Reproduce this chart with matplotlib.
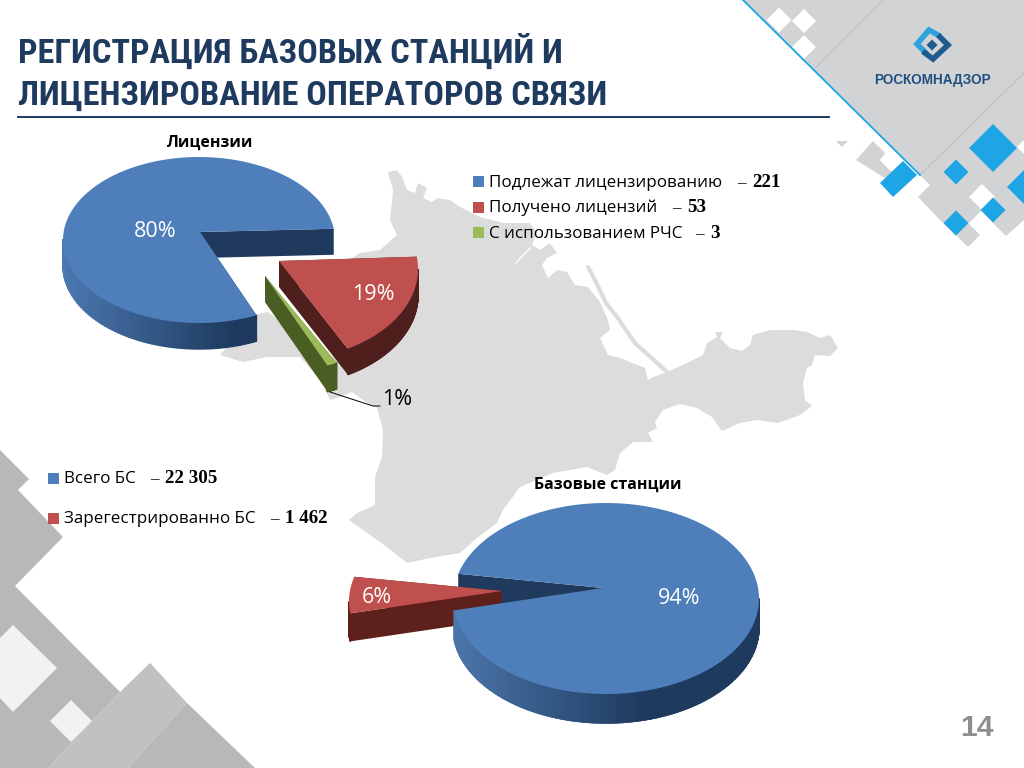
#!/usr/bin/env python3
import numpy as np
import matplotlib
matplotlib.use('Agg')
import matplotlib.pyplot as plt
from matplotlib.patches import Polygon

# Data
title_lines = ['РЕГИСТРАЦИЯ БАЗОВЫХ СТАНЦИЙ И', 'ЛИЦЕНЗИРОВАНИЕ ОПЕРАТОРОВ СВЯЗИ']
page_number = '14'
logo_text = 'РОСКОМНАДЗОР'

lic_title = 'Лицензии'
lic_names = ['Подлежат лицензированию', 'Получено лицензий', 'С использованием РЧС']
lic_values = [221, 53, 3]
lic_value_text = ['221', '53', '3']
lic_pct = ['80%', '19%', '1%']

bs_title = 'Базовые станции'
bs_names = ['Всего БС', 'Зарегестрированно БС']
bs_values = [22305, 1462]
bs_value_text = ['22 305', '1 462']
bs_pct = ['94%', '6%']

# Crimea outline behind the charts (picture pixels)
crimea = [(388, 172), (397, 170), (402, 177), (407, 190), (415, 193), (418, 183), (427, 188), (423, 198),
          (432, 202), (437, 198), (450, 200), (460, 207), (480, 217), (503, 223), (530, 223), (537, 233),
          (532, 245), (540, 250), (550, 243), (557, 253), (547, 258), (542, 265), (548, 278), (557, 270),
          (567, 272), (575, 285), (588, 287), (600, 302), (608, 320), (610, 330), (600, 338), (608, 355),
          (620, 358), (645, 368), (648, 380), (653, 377), (667, 372), (687, 363), (703, 355), (707, 343),
          (717, 337), (715, 332), (723, 332), (720, 338), (730, 348), (742, 351), (750, 345), (753, 335),
          (770, 330), (793, 330), (807, 332), (820, 338), (830, 335), (838, 348), (830, 356), (815, 355),
          (812, 365), (807, 368), (803, 383), (805, 400), (812, 406), (800, 415), (778, 423), (757, 420),
          (740, 423), (722, 431), (712, 417), (697, 408), (680, 404), (663, 410), (655, 422), (657, 428),
          (648, 433), (653, 442), (633, 442), (620, 453), (615, 470), (607, 475), (587, 467), (553, 473),
          (520, 487), (503, 510), (497, 523), (477, 538), (460, 553), (430, 558), (407, 563), (387, 547),
          (363, 530), (349, 520), (357, 513), (375, 505), (375, 477), (382, 457), (383, 430), (377, 408),
          (367, 403), (352, 392), (340, 397), (330, 400), (322, 382), (300, 357), (267, 357), (243, 362),
          (220, 355), (227, 347), (253, 340), (253, 315), (268, 312), (310, 345), (335, 358), (345, 345),
          (345, 262), (360, 253), (380, 250), (397, 235), (390, 220), (392, 202), (393, 190)]
arabat = [(588, 267), (595, 280), (606, 303), (617, 317), (635, 343), (667, 372)]

NAVY = '#1f3a5f'
SKY = '#1ea5e6'
BLUE = '#4f7fbb'
RED = '#c0504d'
GREEN = '#9bbb59'
GREY_MAP = '#dcdcdc'
TEXT_FONT = ['Open Sans', 'DejaVu Sans']
SERIF = ['Liberation Serif', 'DejaVu Serif']
PX = 0.72  # font size in points for one pixel at dpi 100


def diamond(ax, cx, cy, h, color, z=1):
    ax.add_patch(Polygon([(cx - h, cy), (cx, cy - h), (cx + h, cy), (cx, cy + h)], color=color, lw=0, zorder=z))


def poly(ax, pts, color, z=1):
    ax.add_patch(Polygon(pts, closed=True, facecolor=color, edgecolor='none', zorder=z))


def arc_points(a0, a1, cx, cy, rx, ry):
    th = np.radians(np.linspace(a0, a1, 160))
    return np.column_stack([cx + rx * np.cos(th), cy - ry * np.sin(th)]), th


def mix(c1, c2, t):
    c1 = np.array(matplotlib.colors.to_rgb(c1))
    c2 = np.array(matplotlib.colors.to_rgb(c2))
    return tuple(c1 + (c2 - c1) * t)


def draw_sides(ax, a0, a1, tip, centre, rx, ry, depth, cut, light, dark, z):
    arc, th = arc_points(a0, a1, centre[0], centre[1], rx, ry)
    tip = np.array(tip, float)
    d = np.array([0, depth])
    for end in (arc[0], arc[-1]):
        poly(ax, [tip, end, end + d, tip + d], cut, z)
    for i in range(len(arc) - 1):
        mid = (th[i] + th[i + 1]) / 2
        if np.sin(mid) < 0:
            t = np.clip((np.cos(mid) + 1) / 1.25, 0, 1)
            col = mix(light, dark, t)
            ax.add_patch(Polygon([arc[i], arc[i + 1], arc[i + 1] + d, arc[i] + d], closed=True,
                                 facecolor=col, edgecolor=col, lw=1.0, zorder=z + 0.1))


def draw_top(ax, a0, a1, tip, centre, rx, ry, color, z):
    arc, _ = arc_points(a0, a1, centre[0], centre[1], rx, ry)
    poly(ax, np.vstack([tip, arc]), color, z + 0.2)


def spans(values, start):
    # slices run clockwise from the start angle
    total = sum(values)
    a = start
    out = []
    for v in values:
        out.append((a, a - 360.0 * v / total))
        a -= 360.0 * v / total
    return out


fig = plt.figure(figsize=(10.24, 7.68), dpi=100)
ax = fig.add_axes([0, 0, 1, 1])
ax.set_xlim(0, 1024)
ax.set_ylim(768, 0)
ax.axis('off')

# Top right corner decoration
poly(ax, [(743, 0), (1024, 0), (1024, 220), (1006, 236), (993, 223), (982, 210), (970, 222), (956, 236),
          (943, 223), (918, 197), (930, 185), (920, 175)], '#d1d3d5')
ax.plot([883, 815], [0, 68], color='#bcbec0', lw=0.8, zorder=1.2)
ax.plot([920, 1024], [175, 73], color='#bcbec0', lw=0.8, zorder=1.2)
diamond(ax, 779, 20, 12.5, 'white', 1.3)
diamond(ax, 804, 21, 12, 'white', 1.3)
diamond(ax, 804, 47, 12, 'white', 1.3)
ax.plot([743, 920], [0, 175], color=SKY, lw=1.3, zorder=1.4)
diamond(ax, 993, 148, 24, SKY, 1.3)
diamond(ax, 956, 172, 12.5, SKY, 1.3)
diamond(ax, 1024, 187, 17, SKY, 1.3)
diamond(ax, 1024, 147, 7, 'white', 1.3)
diamond(ax, 982, 197, 13, 'white', 1.3)
diamond(ax, 993, 210, 12.5, SKY, 1.4)
diamond(ax, 956, 223, 12.5, SKY, 1.3)
diamond(ax, 968, 235, 12, '#d1d3d5', 1.2)
poly(ax, [(856, 160), (873, 141), (885, 153), (880, 160), (893, 172), (885, 178)], '#d1d3d5')
diamond(ax, 891, 160, 11.5, 'white', 1.3)
poly(ax, [(880, 183), (903, 161), (917, 175), (893, 197)], SKY, 1.4)
poly(ax, [(836, 141), (848, 141), (842, 147)], '#d1d3d5')

# Bottom left corner decoration
poly(ax, [(0, 450), (29, 479), (18, 490), (63, 537), (15, 586), (120, 692), (48, 768), (0, 768)], '#b7b8ba')
poly(ax, [(150, 663), (187, 703), (128, 768), (48, 768), (120, 692)], '#bfc1c2')
poly(ax, [(187, 703), (255, 768), (128, 768)], '#b7b8ba')
poly(ax, [(0, 638), (13, 625), (57, 668), (13, 712), (0, 698)], '#f1f2f3', 1.2)
diamond(ax, 71, 721, 21, '#f1f2f3', 1.2)

# Map
poly(ax, crimea, GREY_MAP, 2)
ax.plot(*zip(*arabat), color=GREY_MAP, lw=3, zorder=2, solid_capstyle='round')
ax.plot([516, 530], [263, 248], color='white', lw=1, zorder=2.1)

# Logo
ax.plot([925, 917, 929, 938], [52, 44, 30, 35], color='#2ea3dc', lw=4, zorder=3, solid_joinstyle='miter')
ax.plot([940, 948, 933, 925], [37, 45, 59, 53], color='#1e5b8e', lw=4, zorder=3, solid_joinstyle='miter')
diamond(ax, 932, 45, 5.5, '#1e5b8e', 3)
ax.text(932, 84, logo_text, ha='center', va='baseline', fontsize=13.5 * PX, fontweight='bold',
        family=['Liberation Sans', 'DejaVu Sans'], color='#1e4f80', zorder=3)

# Heading
for line, base in zip(title_lines, [63, 105]):
    ax.text(18, base, line, ha='left', va='baseline', fontsize=34.3 * PX, fontweight='bold',
            family=['Roboto Condensed', 'Roboto', 'Liberation Sans'], color=NAVY, zorder=5)
ax.plot([18, 829], [117, 117], color='#1f3864', lw=1.4, zorder=5)

# Licences pie, each slice has its own perspective size
lic_spans = spans(lic_values, -65)
lic_shift = [(0, 0), (79, 29), (65, 44)]
lic_centre_shift = [(0, 0), (83, 29), (65, 44)]
lic_radii = [(136, 83), (136, 91), (150, 90)]
lic_tip = (200, 232)
lic_centre = (199, 240)
styles = [(BLUE, '#1f3a5c', '#4b78b0', '#1e3a5f'), (RED, '#4f1f1d', '#57211e', '#4f1f1d'),
          (GREEN, '#4a5d23', '#4a5d23', '#4a5d23')]
for (a0, a1), (dx, dy), (cx, cy), (rx, ry), (top, cut, light, dark) in zip(lic_spans, lic_shift, lic_centre_shift, lic_radii, styles):
    t = (lic_tip[0] + dx, lic_tip[1] + dy)
    c = (lic_centre[0] + cx, lic_centre[1] + cy)
    draw_sides(ax, a0, a1, t, c, rx, ry, 26, cut, light, dark, 6)
    draw_top(ax, a0, a1, t, c, rx, ry, top, 6)

# Base stations pie, the red slice goes in behind the blue top
bs_spans = spans(bs_values, 165)
bs_tip = (603, 588)
bs_centre = (606, 598.5)
a0, a1 = bs_spans[1]
draw_sides(ax, bs_spans[0][0], bs_spans[0][1], bs_tip, bs_centre, 153, 95.5, 29, '#1f3a5c', '#4b76aa', '#1e3a5f', 6)
t = (bs_tip[0] - 101, bs_tip[1] + 3)
c = (bs_centre[0] - 101, bs_centre[1] + 3)
draw_sides(ax, a0, a1, t, c, 156, 95.5, 28, '#5e201b', '#5e201b', '#5e201b', 7)
draw_top(ax, a0, a1, t, c, 156, 95.5, RED, 7)
a0, a1 = bs_spans[0]
draw_sides(ax, 0, a1, bs_tip, bs_centre, 153, 95.5, 29, 'none', '#4b76aa', '#1e3a5f', 8)
draw_top(ax, a0, a1, bs_tip, bs_centre, 153, 95.5, BLUE, 8.5)

# Chart titles and percent labels
ax.text(210, 147, lic_title, ha='center', va='baseline', fontsize=16 * PX, fontweight='bold',
        family=TEXT_FONT, color='black', zorder=10)
ax.text(608, 489, bs_title, ha='center', va='baseline', fontsize=16 * PX, fontweight='bold',
        family=TEXT_FONT, color='black', zorder=10)
for txt, x, y, col in zip(lic_pct, [155, 373, 397], [237, 300, 405], ['white', 'white', 'black']):
    ax.text(x, y, txt, ha='center', va='baseline', fontsize=21.5 * PX, family=TEXT_FONT, color=col, zorder=10)
for txt, x, y in zip(bs_pct, [679, 377], [604, 603]):
    ax.text(x, y, txt, ha='center', va='baseline', fontsize=21.5 * PX, family=TEXT_FONT, color='white', zorder=10)
ax.plot([330, 373, 380], [392, 406, 406], color='black', lw=0.7, zorder=9)

# Legends typed on the slide
lic_rows = [187, 212, 238]
lic_marks = [181, 207, 232]
lic_dash = [737, 672, 695]
for name, val, col, base, mark, dash in zip(lic_names, lic_value_text, [BLUE, RED, GREEN], lic_rows, lic_marks, lic_dash):
    poly(ax, [(473, mark - 5.5), (484, mark - 5.5), (484, mark + 5.5), (473, mark + 5.5)], col, 10)
    ax.text(489, base, name, ha='left', va='baseline', fontsize=17 * PX, family=TEXT_FONT, color='black', zorder=10)
    ax.text(dash, base, '–', ha='left', va='baseline', fontsize=17 * PX, family=SERIF, color='black', zorder=10)
    ax.text(dash + 15, base, val, ha='left', va='baseline', fontsize=19 * PX, fontweight='bold',
            family=SERIF, color='black', zorder=10)

bs_rows = [483, 523]
bs_marks = [478, 518]
bs_dash = [150, 270]
for name, val, col, base, mark, dash in zip(bs_names, bs_value_text, [BLUE, RED], bs_rows, bs_marks, bs_dash):
    poly(ax, [(48, mark - 5.5), (59, mark - 5.5), (59, mark + 5.5), (48, mark + 5.5)], col, 10)
    ax.text(64, base, name, ha='left', va='baseline', fontsize=17 * PX, family=TEXT_FONT, color='black', zorder=10)
    ax.text(dash, base, '–', ha='left', va='baseline', fontsize=17 * PX, family=SERIF, color='black', zorder=10)
    ax.text(dash + 15, base, val, ha='left', va='baseline', fontsize=19 * PX, fontweight='bold',
            family=SERIF, color='black', zorder=10)

ax.text(977, 736, page_number, ha='center', va='baseline', fontsize=30 * PX, fontweight='bold',
        family=['Liberation Sans', 'DejaVu Sans'], color='#8e8e8e', zorder=10)

fig.savefig('out.png', dpi=100)
